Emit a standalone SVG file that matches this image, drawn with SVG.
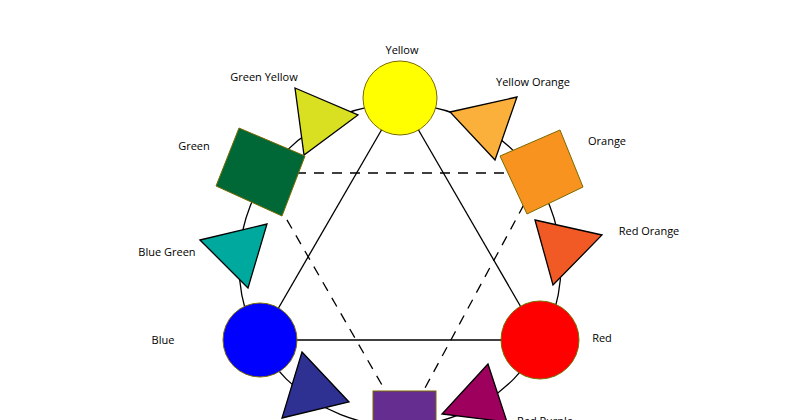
<svg xmlns="http://www.w3.org/2000/svg" width="800" height="420" viewBox="0 0 800 420">
<style>
text{font-family:"Open Sans","Liberation Sans",sans-serif;font-size:11px;fill:#000;text-anchor:middle}
.s{stroke:#7a6a00;stroke-width:1}
.t{stroke:#000;stroke-width:1.3}
.l{stroke:#000;stroke-width:1.3;fill:none}
.d{stroke:#000;stroke-width:1.3;fill:none;stroke-dasharray:10 8}
</style>
<rect width="800" height="420" fill="#fff"/>
<g id="connectors">
<circle cx="400" cy="265" r="161" class="l"/>
<line x1="400" y1="98" x2="260" y2="340" class="l"/>
<line x1="400" y1="98" x2="540" y2="340" class="l"/>
<line x1="260" y1="340" x2="540" y2="340" class="l"/>
<line x1="260" y1="173" x2="541" y2="173" class="d"/>
<line x1="260" y1="173" x2="405" y2="425" class="d"/>
<line x1="541" y1="173" x2="405" y2="425" class="d"/>
</g>
<g id="yellow"><circle cx="400" cy="98" r="37" fill="#ffff00" class="s"/><text x="402" y="54">Yellow</text></g>
<g id="green-yellow"><polygon points="295,88 358,115 304,155" fill="#d9e021" class="t"/><text x="264" y="81">Green Yellow</text></g>
<g id="yellow-orange"><polygon points="450,112 517,97 495,160" fill="#fbb03b" class="t"/><text x="533" y="86">Yellow Orange</text></g>
<g id="orange"><polygon points="500,156 560,130 583,187 527,214" fill="#f7931e" class="s"/><text x="607" y="145">Orange</text></g>
<g id="red-orange"><polygon points="535,220 602,235 553,285" fill="#f15a24" class="t"/><text x="649" y="235">Red Orange</text></g>
<g id="red"><circle cx="540" cy="340" r="39" fill="#ff0000" class="s"/><text x="602" y="342">Red</text></g>
<g id="red-purple"><polygon points="488,364 442,414 507,422" fill="#9e005d" class="t"/><text x="545" y="425">Red Purple</text></g>
<g id="purple"><rect x="373" y="391" width="63" height="40" fill="#662d91" class="s"/></g>
<g id="blue-purple"><polygon points="302,352 349,402 282,418" fill="#2e3192" class="t"/><text x="252" y="429">Blue Purple</text></g>
<g id="blue"><circle cx="260" cy="340" r="37" fill="#0000ff" class="s"/><text x="163" y="344">Blue</text></g>
<g id="blue-green"><polygon points="200,240 267,224 248,288" fill="#00a99d" class="t"/><text x="167" y="256">Blue Green</text></g>
<g id="green"><polygon points="239,128 305,156 282,216 216,186" fill="#006837" class="s"/><text x="194" y="150">Green</text></g>
</svg>
